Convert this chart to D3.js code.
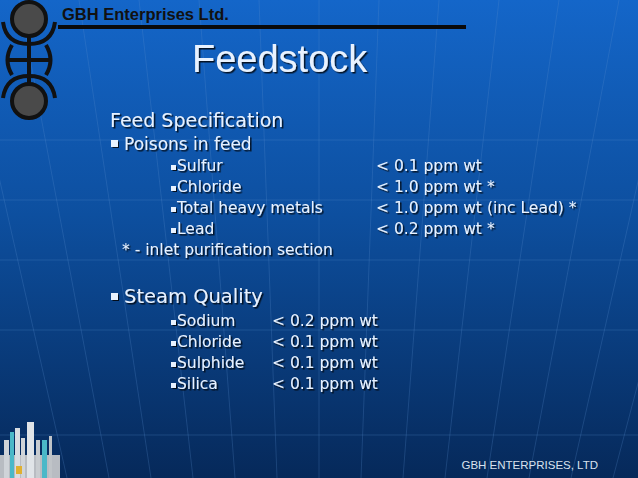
<!DOCTYPE html>
<html><head><meta charset="utf-8">
<script src="https://cdn.jsdelivr.net/npm/d3@7"></script>
<style>body{margin:0;overflow:hidden}</style>
</head><body>
<script>
const feedItems = ["Sulfur", "Chloride", "Total heavy metals", "Lead"];
const feedLimits = ["< 0.1 ppm wt", "< 1.0 ppm wt *", "< 1.0 ppm wt (inc Lead) *", "< 0.2 ppm wt *"];
const steamItems = ["Sodium", "Chloride", "Sulphide", "Silica"];
const steamLimits = ["< 0.2 ppm wt", "< 0.1 ppm wt", "< 0.1 ppm wt", "< 0.1 ppm wt"];

const W = 638, H = 478;
const svg = d3.select("body").append("svg").attr("width", W).attr("height", H);
const defs = svg.append("defs");
const bg = defs.append("linearGradient").attr("id", "bg").attr("x1", 0).attr("y1", 0).attr("x2", 0).attr("y2", 1);
bg.append("stop").attr("offset", "0").attr("stop-color", "#1466c9");
bg.append("stop").attr("offset", "0.45").attr("stop-color", "#0d4f9f");
bg.append("stop").attr("offset", "1").attr("stop-color", "#06295a");
const sh = defs.append("filter").attr("id", "sh");
sh.append("feDropShadow").attr("dx", 1.5).attr("dy", 1.5).attr("stdDeviation", 0.6).attr("flood-color", "#000").attr("flood-opacity", 0.8);

svg.append("rect").attr("width", W).attr("height", H).attr("fill", "url(#bg)");

// faint grid
const g = svg.append("g").attr("stroke", "#5a8fd0").attr("stroke-opacity", 0.25).attr("fill", "none");
d3.range(-6, 8).forEach(i => {
  const xb = W / 2 + i * 42, xt = W / 2 + i * 60;
  g.append("line").attr("x1", xt).attr("y1", 0).attr("x2", xb).attr("y2", H);
});
[140, 200, 260, 330, 435].forEach(y => g.append("line").attr("x1", 0).attr("x2", W).attr("y1", y).attr("y2", y));

// logo
const lg = svg.append("g").attr("stroke", "#111").attr("stroke-width", 4).attr("fill", "none");
[[29, 19], [29, 101]].forEach(([cx, cy]) => {
  svg.append("circle").attr("cx", cx).attr("cy", cy).attr("r", 17).attr("fill", "#4a4a4a").attr("stroke", "#111").attr("stroke-width", 4);
});
lg.append("path").attr("d", "M3,22 Q6,44 29,44 Q52,44 55,22");
lg.append("path").attr("d", "M3,98 Q6,76 29,76 Q52,76 55,98");
lg.append("line").attr("x1", 29).attr("y1", 36).attr("x2", 29).attr("y2", 84);
lg.append("line").attr("x1", 8).attr("y1", 60).attr("x2", 50).attr("y2", 60);
lg.append("path").attr("d", "M12,45 Q3,60 12,75");
lg.append("path").attr("d", "M46,45 Q55,60 46,75");

svg.append("text").attr("x", 62).attr("y", 20).attr("font-family", "Liberation Sans, Arial").attr("font-weight", "bold")
  .attr("font-size", 16.5).attr("fill", "#111").text("GBH Enterprises Ltd.");
svg.append("rect").attr("x", 58).attr("y", 25).attr("width", 408).attr("height", 4).attr("fill", "#0a0a0a");

const txt = (x, y, s, size, family) => svg.append("text").attr("x", x).attr("y", y).attr("font-size", size)
  .attr("font-family", family || "DejaVu Sans, Verdana").attr("fill", "#e8f2ff").attr("filter", "url(#sh)").text(s);
const sq = (x, y, s) => svg.append("rect").attr("x", x).attr("y", y - s).attr("width", s).attr("height", s).attr("fill", "#e8f2ff").attr("filter", "url(#sh)");

txt(192, 72, "Feedstock", 38, "Liberation Sans, Arial");
txt(110, 127, "Feed Specification", 19);
sq(111, 147, 7); txt(124, 150, "Poisons in feed", 17);

const y1 = d3.scalePoint().domain(feedItems).range([171, 234]);
feedItems.forEach((d, i) => {
  sq(171, y1(d) - 1, 5); txt(177, y1(d), d, 15.5); txt(376, y1(d), feedLimits[i], 15.5);
});
txt(122, 255, "* - inlet purification section", 15.5);

sq(111, 300, 7); txt(124, 303, "Steam Quality", 19.5);
const y2 = d3.scalePoint().domain(steamItems).range([326, 389]);
steamItems.forEach((d, i) => {
  sq(171, y2(d) - 1, 5); txt(177, y2(d), d, 15.5); txt(272, y2(d), steamLimits[i], 15.5);
});

// refinery icon
const rf = svg.append("g");
rf.append("rect").attr("x", 0).attr("y", 455).attr("width", 60).attr("height", 23).attr("fill", "#b8bcc2");
[[4, 440, 5, "#cfd3d8"], [10, 432, 4, "#4ab8c8"], [15, 428, 5, "#d8dde2"], [21, 438, 4, "#d0d4d8"], [27, 422, 7, "#e0e4e8"], [36, 440, 4, "#c8ccd0"], [42, 440, 5, "#4ab8c8"], [49, 436, 3, "#c0c4c8"]]
  .forEach(([x, y, w, c]) => rf.append("rect").attr("x", x).attr("y", y).attr("width", w).attr("height", 478 - y).attr("fill", c));
rf.append("rect").attr("x", 16).attr("y", 466).attr("width", 6).attr("height", 8).attr("fill", "#e0b030");

svg.append("text").attr("x", 598).attr("y", 469).attr("text-anchor", "end").attr("font-family", "Liberation Sans, Arial")
  .attr("font-size", 11.5).attr("fill", "#d8e2ee").text("GBH ENTERPRISES, LTD");
</script>
</body></html>
